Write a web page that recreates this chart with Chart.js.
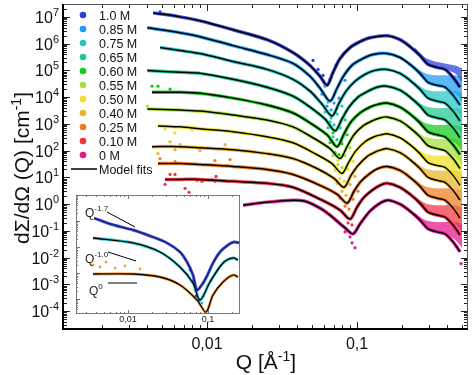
<!DOCTYPE html>
<html>
<head>
<meta charset="utf-8">
<title>SANS curves</title>
<script src="https://cdn.jsdelivr.net/npm/chart.js@4.4.1/dist/chart.umd.min.js"></script>
<style>
  html, body { margin: 0; padding: 0; background: #fff; }
  #wrap { position: relative; width: 474px; height: 375px; overflow: hidden; }
  canvas { position: absolute; }
  #main { left: 0; top: 0; }
  #inset { left: 60px; top: 185px; }
</style>
</head>
<body>
<div id="wrap">
  <canvas id="main" width="474" height="375"></canvas>
  <canvas id="inset" width="200" height="150"></canvas>
</div>
<script>
// ── Series ────────────────────────────────────────────────
const concLabels = ['1.0 M', '0.85 M', '0.75 M', '0.65 M', '0.60 M', '0.55 M', '0.50 M', '0.40 M', '0.25 M', '0.10 M', '0 M'];
const concColors = ['#2b3ed6', '#1f9bf0', '#22c6c2', '#1fc88e', '#14cc1c', '#a6df3c', '#eee022', '#e8b42a', '#f07c22', '#ee3344', '#e4148c'];

// model fits: Q [1/Å] and dΣ/dΩ [1/cm], one pair per concentration
const q100 = [0.00437, 0.00661, 0.00898, 0.0149, 0.0251, 0.0374, 0.0486, 0.0567, 0.0631, 0.0692, 0.0771, 0.0898, 0.1047, 0.1221, 0.1585, 0.1935, 0.2255, 0.263, 0.2973, 0.3415, 0.386, 0.4365, 0.486];
const fit100 = [1.41e7, 1.0e7, 7.11e6, 3.30e6, 1.41e6, 4.64e5, 1.53e5, 6.0e4, 2.78e4, 8.43e4, 2.78e5, 7.11e5, 1.19e6, 1.67e6, 1.98e6, 1.41e6, 7.74e5, 3.59e5, 1.67e5, 1.29e5, 1.09e5, 5.5e4, 2.35e4];
const q085 = [0.0040, 0.00661, 0.00898, 0.0149, 0.0251, 0.0374, 0.0486, 0.0567, 0.0661, 0.0736, 0.0819, 0.0940, 0.1096, 0.1279, 0.1585, 0.1935, 0.2255, 0.263, 0.2973, 0.3415, 0.386, 0.4365, 0.486];
const fit085 = [3.91e6, 2.56e6, 1.82e6, 8.43e5, 3.91e5, 1.82e5, 6.0e4, 2.15e4, 7.11e3, 2.15e4, 6.53e4, 1.67e5, 2.78e5, 3.91e5, 4.26e5, 3.03e5, 1.67e5, 7.74e4, 3.59e4, 2.78e4, 2.35e4, 1.19e4, 5.06e3];
const q075 = [0.00486, 0.00661, 0.00898, 0.0149, 0.0251, 0.0374, 0.0486, 0.0584, 0.0681, 0.0759, 0.0845, 0.0970, 0.1131, 0.1318, 0.1585, 0.1935, 0.2255, 0.263, 0.2973, 0.3415, 0.386, 0.4365, 0.486];
const fit075 = [7.11e5, 5.5e5, 4.26e5, 2.15e5, 1.09e5, 4.64e4, 1.67e4, 5.5e3, 1.98e3, 6.0e3, 1.67e4, 3.91e4, 7.11e4, 1.0e5, 1.09e5, 7.74e4, 4.26e4, 1.98e4, 9.18e3, 7.11e3, 6.0e3, 3.03e3, 1.29e3];
const q065 = [0.0040, 0.00661, 0.00898, 0.0149, 0.0251, 0.0374, 0.0486, 0.0612, 0.0714, 0.0794, 0.0885, 0.1016, 0.1184, 0.1359, 0.1585, 0.1935, 0.2255, 0.263, 0.2973, 0.3415, 0.386, 0.4365, 0.486];
const fit065 = [1.0e5, 8.43e4, 7.74e4, 4.64e4, 2.35e4, 1.09e4, 4.26e3, 1.53e3, 5.5e2, 1.53e3, 4.26e3, 1.0e4, 1.67e4, 2.35e4, 2.56e4, 1.82e4, 1.0e4, 4.64e3, 2.15e3, 1.67e3, 1.41e3, 7.11e2, 3.03e2];
const q060 = [0.0043, 0.00661, 0.00898, 0.0149, 0.0251, 0.0374, 0.0486, 0.0631, 0.0736, 0.0819, 0.0912, 0.1047, 0.1221, 0.1402, 0.1585, 0.1935, 0.2255, 0.263, 0.2973, 0.3415, 0.386, 0.4365, 0.486];
const fit060 = [1.53e4, 1.53e4, 1.41e4, 9.18e3, 5.06e3, 2.56e3, 1.09e3, 3.91e2, 1.41e2, 4.26e2, 1.19e3, 2.56e3, 4.26e3, 5.5e3, 6.0e3, 4.26e3, 2.35e3, 1.09e3, 5.06e2, 3.91e2, 3.30e2, 1.67e2, 71.1];
const q055 = [0.0040, 0.00661, 0.00898, 0.0149, 0.0251, 0.0374, 0.0509, 0.0661, 0.0771, 0.0858, 0.0955, 0.1096, 0.1259, 0.1423, 0.1585, 0.1935, 0.2255, 0.263, 0.2973, 0.3415, 0.386, 0.4365, 0.486];
const fit055 = [3.59e3, 3.30e3, 3.03e3, 2.15e3, 1.41e3, 7.74e2, 3.03e2, 1.19e2, 50.6, 1.41e2, 3.91e2, 8.43e2, 1.29e3, 1.67e3, 1.82e3, 1.29e3, 7.11e2, 3.30e2, 1.53e2, 1.19e2, 1.0e2, 50.6, 21.5];
const q050 = [0.00471, 0.00661, 0.00898, 0.0149, 0.0251, 0.0374, 0.0525, 0.0681, 0.0794, 0.0885, 0.0985, 0.1131, 0.1299, 0.1445, 0.1585, 0.1935, 0.2255, 0.263, 0.2973, 0.3415, 0.386, 0.4365, 0.486];
const fit050 = [8.43e2, 7.74e2, 6.53e2, 5.06e2, 3.30e2, 1.98e2, 77.4, 33.0, 14.1, 39.1, 1.0e2, 2.15e2, 3.30e2, 3.91e2, 4.26e2, 3.03e2, 1.67e2, 77.4, 35.9, 27.8, 23.5, 11.9, 5.06];
const q040 = [0.0043, 0.00661, 0.00898, 0.0149, 0.0251, 0.0374, 0.0541, 0.0703, 0.0819, 0.0912, 0.1016, 0.1166, 0.1339, 0.1468, 0.1585, 0.1935, 0.2255, 0.263, 0.2973, 0.3415, 0.386, 0.4365, 0.486];
const fit040 = [1.41e2, 1.41e2, 1.29e2, 1.09e2, 77.4, 50.6, 21.5, 9.18, 4.26, 11.9, 27.8, 60.0, 91.8, 1.09e2, 1.19e2, 84.3, 46.4, 21.5, 10.0, 7.74, 6.53, 3.30, 1.41];
const q025 = [0.00471, 0.00661, 0.00898, 0.0149, 0.0251, 0.0374, 0.0567, 0.0736, 0.0858, 0.0955, 0.1063, 0.1221, 0.1380, 0.1585, 0.1935, 0.2255, 0.263, 0.2973, 0.3415, 0.386, 0.4365, 0.486];
const fit025 = [33.0, 33.0, 30.3, 25.6, 19.8, 12.9, 5.06, 2.35, 1.09, 3.03, 7.11, 14.1, 21.5, 25.6, 18.2, 10.0, 4.64, 2.15, 1.67, 1.41, 0.711, 0.303];
const q010 = [0.00525, 0.00661, 0.00898, 0.0149, 0.0251, 0.0374, 0.0584, 0.0771, 0.0898, 0.1000, 0.1114, 0.1259, 0.1423, 0.1585, 0.1935, 0.2255, 0.263, 0.2973, 0.3415, 0.386, 0.4365, 0.486];
const fit010 = [8.43, 8.43, 8.43, 7.11, 6.0, 4.26, 1.41, 0.60, 0.278, 0.774, 1.82, 3.30, 5.06, 6.0, 4.26, 2.35, 1.09, 0.506, 0.391, 0.330, 0.167, 0.0711];
const q000 = [0.0174, 0.0251, 0.0374, 0.0450, 0.0567, 0.0661, 0.0832, 0.0940, 0.1047, 0.1221, 0.1423, 0.161, 0.1935, 0.2255, 0.263, 0.2973, 0.3415, 0.386, 0.4365, 0.486];
const fit000 = [0.918, 1.19, 1.41, 1.29, 0.711, 0.391, 0.129, 0.0774, 0.182, 0.55, 1.09, 1.41, 1.0, 0.55, 0.256, 0.119, 0.0918, 0.0774, 0.0391, 0.0167];

// spread of the measured points at high Q (upper / lower edge)
const bandQ = [0.2435, 0.2839, 0.3311, 0.386, 0.450, 0.501];
const hi100 = [7.11e5, 3.03e5, 2.15e5, 1.82e5, 1.53e5, 1.19e5], lo100 = [5.06e5, 1.98e5, 1.41e5, 1.09e5, 7.74e4, 3.59e4];
const hi085 = [1.41e5, 7.74e4, 6.53e4, 6.53e4, 6.53e4, 5.5e4], lo085 = [1.0e5, 4.26e4, 2.78e4, 2.15e4, 1.41e4, 7.11e3];
const hi075 = [3.59e4, 1.98e4, 1.67e4, 1.67e4, 1.67e4, 1.41e4], lo075 = [2.56e4, 1.09e4, 7.11e3, 5.5e3, 3.59e3, 1.82e3];
const hi065 = [8.43e3, 4.64e3, 3.91e3, 3.91e3, 3.91e3, 3.30e3], lo065 = [6.0e3, 2.56e3, 1.67e3, 1.29e3, 8.43e2, 4.26e2];
const hi060 = [1.98e3, 1.09e3, 9.18e2, 9.18e2, 9.18e2, 7.74e2], lo060 = [1.41e3, 6.0e2, 3.91e2, 3.03e2, 1.98e2, 1.0e2];
const hi055 = [6.0e2, 3.30e2, 2.78e2, 2.78e2, 2.78e2, 2.35e2], lo055 = [4.26e2, 1.82e2, 1.19e2, 91.8, 60.0, 30.3];
const hi050 = [1.41e2, 77.4, 65.3, 65.3, 65.3, 55.0], lo050 = [1.0e2, 42.6, 27.8, 21.5, 14.1, 7.11];
const hi040 = [39.1, 21.5, 18.2, 18.2, 18.2, 15.3], lo040 = [27.8, 11.9, 7.74, 6.0, 3.91, 1.98];
const hi025 = [8.43, 4.64, 3.91, 3.91, 3.91, 3.30], lo025 = [6.0, 2.56, 1.67, 1.29, 0.843, 0.426];
const hi010 = [1.98, 1.09, 0.918, 0.918, 0.918, 0.774], lo010 = [1.41, 0.60, 0.391, 0.303, 0.198, 0.10];
const hi000 = [0.464, 0.256, 0.215, 0.215, 0.215, 0.182], lo000 = [0.330, 0.141, 0.0918, 0.0711, 0.0464, 0.0235];

// stray measured points (noisy low Q, minima)
const s100Q = [0.00486, 0.0509, 0.0550, 0.0593, 0.0661, 0.0724], s100I = [1.53e7, 2.35e5, 1.09e5, 6.53e4, 4.64e4, 1.53e5];
const s085Q = [0.0584, 0.0631, 0.0671, 0.0703, 0.0759, 0.0612, 0.0832], s085I = [1.29e4, 4.64e3, 3.30e3, 6.0e3, 9.18e3, 2.56e4, 4.26e4];
const s075Q = [0.0612, 0.0661, 0.0703, 0.0736, 0.0794, 0.0641], s075I = [2.78e3, 1.19e3, 9.18e2, 2.35e3, 4.64e3, 6.53e3];
const s065Q = [0.0641, 0.0692, 0.0736, 0.0771, 0.0832, 0.0671], s065I = [7.11e2, 3.30e2, 2.56e2, 7.11e2, 1.41e3, 1.67e3];
const s060Q = [0.0661, 0.0714, 0.0759, 0.0794, 0.0858, 0.0692, 0.0043, 0.00471, 0.00567], s060I = [1.98e2, 84.3, 71.1, 1.82e2, 3.91e2, 4.64e2, 2.56e4, 2.56e4, 1.98e4];
const s055Q = [0.0692, 0.0747, 0.0794, 0.0832, 0.0898, 0.0724, 0.0040], s055I = [65.3, 30.3, 23.5, 65.3, 1.29e2, 1.53e2, 4.64e3];
const s050Q = [0.0714, 0.0771, 0.0819, 0.0871, 0.0940, 0.0747, 0.00525, 0.00612, 0.00794], s050I = [18.2, 9.18, 7.11, 19.8, 39.1, 42.6, 6.53e2, 4.64e2, 6.0e2];
const s040Q = [0.0736, 0.0794, 0.0845, 0.0898, 0.0970, 0.00471, 0.00567, 0.00661, 0.00612, 0.00898, 0.0132], s040I = [6.0, 3.03, 2.15, 5.5, 10.9, 77.4, 2.15e2, 1.67e2, 1.09e2, 1.0e2, 1.67e2];
const s025Q = [0.0771, 0.0832, 0.0885, 0.0940, 0.1016, 0.00486, 0.00612, 0.0113, 0.01424], s025I = [1.67, 0.843, 0.653, 1.53, 3.03, 50.6, 39.1, 42.6, 46.4];
const s010Q = [0.00525, 0.00567, 0.00612, 0.00714, 0.00759, 0.00858, 0.00926, 0.0113, 0.01148, 0.0871, 0.0926], s010I = [5.5, 12.9, 12.9, 3.91, 2.78, 7.74, 7.11, 7.11, 10.9, 0.198, 0.167];
const s000Q = [0.0926, 0.0970, 0.0898, 0.4935, 0.0832], s000I = [0.0359, 0.0235, 0.060, 0.0060, 0.0918];

// axes
const yTickExp = [-4, -3, -2, -1, 0, 1, 2, 3, 4, 5, 6, 7];
const xTickVals = [0.01, 0.1];
const xTickLabels = ['0,01', '0,1'];

// ── Inset ─────────────────────────────────────────────────
const insetColors = ['#2d3fd8', '#22c5c8', '#f5a040'];
const insetFitColors = ['#1a2270', '#000', '#000'];
const inQ1 = [0.00376, 0.00596, 0.01155, 0.01884, 0.03073, 0.04467, 0.05464, 0.06494, 0.07289, 0.0866, 0.0972, 0.1155, 0.1413, 0.1778, 0.2113, 0.2512];
const inI1 = [13.0, 7.67, 4.51, 2.65, 1.43, 0.642, 0.265, 0.0838, 0.0222, 0.0412, 0.0767, 0.243, 0.642, 1.19, 1.56, 1.43];
const inQ2 = [0.00365, 0.01155, 0.0251, 0.04467, 0.06494, 0.0794, 0.1059, 0.154, 0.2054, 0.2371];
const inI2 = [2.22, 1.43, 0.642, 0.170, 0.0412, 0.00915, 0.0451, 0.243, 0.378, 0.316];
const inQ3 = [0.00365, 0.01155, 0.0251, 0.04467, 0.07289, 0.0944, 0.1155, 0.154, 0.2054, 0.2371];
const inI3 = [0.0915, 0.0915, 0.0702, 0.0346, 0.00915, 0.00316, 0.01425, 0.0451, 0.0838, 0.0702];
const inStrayQ1 = [0.0596, 0.0649, 0.0708, 0.0772], inStrayI1 = [0.1304, 0.0492, 0.0130, 0.00915];
const inStrayQ2 = [0.0688, 0.075, 0.0841, 0.0891], inStrayI2 = [0.0222, 0.01093, 0.00702, 0.0130];
const inStrayQ3 = [0.00365, 0.00447, 0.00531, 0.00688, 0.00917, 0.01413], inStrayI3 = [0.203, 0.170, 0.265, 0.156, 0.186, 0.143];
// power-law guides Q^-1.7, Q^-1.0, Q^0
const guideExp = ['-1.7', '-1.0', '0'];
const guideQ = [[0.00546, 0.01223], [0.00562, 0.01259], [0.00562, 0.01296]];
const guideI = [[22.2, 5.88], [0.642, 0.2894], [0.0412, 0.0412]];

// ── Helpers ───────────────────────────────────────────────
const FONT = "'Liberation Sans', Arial, sans-serif";
const pts = (xs, ys) => xs.map((x, i) => ({ x, y: ys[i] }));

function drawRuns(ctx, runs, x, y, align) {
  let w = 0;
  runs.forEach(r => { ctx.font = r.font; r.w = ctx.measureText(r.t).width; w += r.w; });
  let cx = align === 'right' ? x - w : align === 'center' ? x - w / 2 : x;
  ctx.textAlign = 'left';
  ctx.textBaseline = 'alphabetic';
  runs.forEach(r => { ctx.font = r.font; ctx.fillText(r.t, cx, y - (r.rise || 0)); cx += r.w; });
}

function logTicks(ctx, scale, eFrom, eTo, draw) {
  for (let e = eFrom; e <= eTo; e++) {
    for (let m = 1; m <= 9; m++) {
      const v = m * Math.pow(10, e);
      if (v < scale.min || v > scale.max) continue;
      draw(Math.round(scale.getPixelForValue(v)) + 0.5, m === 1);
    }
  }
}

function fade(hex, a) {
  const n = parseInt(hex.slice(1), 16);
  return `rgba(${n >> 16},${(n >> 8) & 255},${n & 255},${a})`;
}

const whiteBg = {
  id: 'whiteBg',
  beforeDraw(chart) {
    const { ctx, width, height } = chart;
    ctx.save(); ctx.fillStyle = '#fff'; ctx.fillRect(0, 0, width, height); ctx.restore();
  }
};

// ── Main chart ────────────────────────────────────────────
const fitQ = [q100, q085, q075, q065, q060, q055, q050, q040, q025, q010, q000];
const fitI = [fit100, fit085, fit075, fit065, fit060, fit055, fit050, fit040, fit025, fit010, fit000];
const bandHi = [hi100, hi085, hi075, hi065, hi060, hi055, hi050, hi040, hi025, hi010, hi000];
const bandLo = [lo100, lo085, lo075, lo065, lo060, lo055, lo050, lo040, lo025, lo010, lo000];
const strayQ = [s100Q, s085Q, s075Q, s065Q, s060Q, s055Q, s050Q, s040Q, s025Q, s010Q, s000Q];
const strayI = [s100I, s085I, s075I, s065I, s060I, s055I, s050I, s040I, s025I, s010I, s000I];

function mainDatasets() {
  const sets = [];
  concLabels.forEach((label, k) => {
    const col = concColors[k];
    sets.push({ label: label + ' fit', data: pts(fitQ[k], fitI[k]), showLine: true, borderColor: '#000',
      borderWidth: 1.5, pointRadius: 0, tension: 0.3, order: 0 });
    sets.push({ label, data: pts(fitQ[k], fitI[k]), showLine: true, borderColor: fade(col, 0.9),
      borderWidth: 3.5, pointRadius: 0, tension: 0.3, order: 2 });
    sets.push({ label: label + ' scatter', data: pts(strayQ[k], strayI[k]), showLine: false,
      pointRadius: 1.6, pointBackgroundColor: col, pointBorderWidth: 0, order: 1 });
    const hiIndex = sets.length;
    sets.push({ label: label + ' band hi', data: pts(bandQ, bandHi[k]), showLine: true, borderWidth: 0,
      borderColor: 'rgba(0,0,0,0)', pointRadius: 0, tension: 0.3, fill: false, order: 3 });
    sets.push({ label: label + ' band lo', data: pts(bandQ, bandLo[k]), showLine: true, borderWidth: 0,
      borderColor: 'rgba(0,0,0,0)', pointRadius: 0, tension: 0.3, fill: { target: hiIndex },
      backgroundColor: fade(col, 0.72), order: 3 });
  });
  return sets;
}

const mainFrame = {
  id: 'mainFrame',
  afterDraw(chart) {
    const { ctx, chartArea: a, scales: { x, y } } = chart;
    ctx.save();
    ctx.strokeStyle = '#222';
    ctx.lineWidth = 1;
    ctx.beginPath();
    logTicks(ctx, y, -5, 7, (py, major) => {
      const len = major ? 7 : 4;
      ctx.moveTo(a.left, py); ctx.lineTo(a.left + len, py);
      ctx.moveTo(a.right, py); ctx.lineTo(a.right - len, py);
    });
    logTicks(ctx, x, -3, -1, (px, major) => {
      const len = major ? 7 : 4;
      ctx.moveTo(px, a.bottom); ctx.lineTo(px, a.bottom - len);
      ctx.moveTo(px, a.top); ctx.lineTo(px, a.top + len);
    });
    ctx.stroke();
    ctx.strokeStyle = '#555';
    ctx.strokeRect(a.left + 0.5, a.top + 0.5, a.right - a.left - 1, a.bottom - a.top - 1);
    ctx.strokeStyle = '#000';
    ctx.lineWidth = 2;
    ctx.beginPath();
    ctx.moveTo(a.left, a.top); ctx.lineTo(a.left, a.bottom); ctx.lineTo(a.right, a.bottom);
    ctx.stroke();

    ctx.fillStyle = '#111';
    yTickExp.forEach(e => {
      const py = y.getPixelForValue(Math.pow(10, e));
      drawRuns(ctx, [{ t: '10', font: '16px ' + FONT }, { t: String(e), font: '11px ' + FONT, rise: 7 }],
        a.left - 4, py + 6, 'right');
    });
    xTickVals.forEach((v, i) => {
      drawRuns(ctx, [{ t: xTickLabels[i], font: '16px ' + FONT }], x.getPixelForValue(v), a.bottom + 20, 'center');
    });

    // axis titles
    drawRuns(ctx, [{ t: 'Q [Å', font: '21px ' + FONT }, { t: '-1', font: '14px ' + FONT, rise: 8 },
      { t: ']', font: '21px ' + FONT }], 266, 369, 'center');
    ctx.translate(29, 168);
    ctx.rotate(-Math.PI / 2);
    drawRuns(ctx, [{ t: 'dΣ/dΩ (Q) [cm', font: '21px ' + FONT }, { t: '-1', font: '14px ' + FONT, rise: 8 },
      { t: ']', font: '21px ' + FONT }], 0, 0, 'center');
    ctx.restore();
  }
};

const concLegend = {
  id: 'concLegend',
  afterDraw(chart) {
    const { ctx } = chart;
    ctx.save();
    concLabels.forEach((label, i) => {
      const cy = 15 + i * 14;
      ctx.fillStyle = concColors[i];
      ctx.beginPath(); ctx.arc(83, cy, 3.3, 0, Math.PI * 2); ctx.fill();
      ctx.fillStyle = '#111';
      drawRuns(ctx, [{ t: label, font: '12.5px ' + FONT }], 99, cy + 4.5, 'left');
    });
    const cy = 15 + concLabels.length * 14;
    ctx.strokeStyle = '#000'; ctx.lineWidth = 1.5;
    ctx.beginPath(); ctx.moveTo(71, cy); ctx.lineTo(97, cy); ctx.stroke();
    drawRuns(ctx, [{ t: 'Model fits', font: '12.5px ' + FONT }], 99, cy + 4.5, 'left');
    ctx.restore();
  }
};

new Chart(document.getElementById('main'), {
  type: 'scatter',
  data: { datasets: mainDatasets() },
  options: {
    responsive: false, animation: false, devicePixelRatio: 1, events: [],
    layout: { padding: { left: 63, top: 1, right: 6, bottom: 46 } },
    plugins: { legend: { display: false }, tooltip: { enabled: false } },
    scales: {
      x: { type: 'logarithmic', display: false, bounds: 'data', min: 0.001096, max: 0.5495 },
      y: { type: 'logarithmic', display: false, bounds: 'data', min: 2.154e-5, max: 3.03e7 }
    }
  },
  plugins: [whiteBg, mainFrame, concLegend]
});

// ── Inset chart ───────────────────────────────────────────
const inQ = [inQ1, inQ2, inQ3];
const inI = [inI1, inI2, inI3];
const inStrayQ = [inStrayQ1, inStrayQ2, inStrayQ3];
const inStrayI = [inStrayI1, inStrayI2, inStrayI3];

function insetDatasets() {
  const sets = [];
  guideQ.forEach((q, k) => {
    sets.push({ label: 'Q^' + guideExp[k], data: pts(q, guideI[k]), showLine: true, pointRadius: 0,
      borderColor: k === 2 ? '#555' : '#000', borderWidth: k === 2 ? 1.5 : 1, order: 0 });
  });
  inQ.forEach((q, k) => {
    sets.push({ label: 'fit ' + k, data: pts(q, inI[k]), showLine: true, pointRadius: 0,
      borderColor: insetFitColors[k], borderWidth: 1.3, tension: 0.3, order: 0 });
    sets.push({ label: 'data ' + k, data: pts(q, inI[k]), showLine: true, pointRadius: 0,
      borderColor: fade(insetColors[k], 0.9), borderWidth: 3, tension: 0.3, order: 2 });
    sets.push({ label: 'stray ' + k, data: pts(inStrayQ[k], inStrayI[k]), showLine: false,
      pointRadius: 1.4, pointBackgroundColor: insetColors[k], pointBorderWidth: 0, order: 1 });
  });
  return sets;
}

const insetFrame = {
  id: 'insetFrame',
  beforeDatasetsDraw(chart) {
    const { ctx, chartArea: a } = chart;
    ctx.save(); ctx.fillStyle = '#fff'; ctx.fillRect(a.left, a.top, a.right - a.left, a.bottom - a.top); ctx.restore();
  },
  afterDraw(chart) {
    const { ctx, chartArea: a, scales: { x, y } } = chart;
    ctx.save();
    ctx.strokeStyle = '#777';
    ctx.lineWidth = 1;
    ctx.strokeRect(a.left + 0.5, a.top + 0.5, a.right - a.left - 1, a.bottom - a.top - 1);
    ctx.beginPath();
    logTicks(ctx, x, -3, -1, (px, major) => {
      const len = major ? 4 : 2;
      ctx.moveTo(px, a.bottom); ctx.lineTo(px, a.bottom - len);
      ctx.moveTo(px, a.top); ctx.lineTo(px, a.top + len);
    });
    logTicks(ctx, y, -3, 1, (py, major) => {
      const len = major ? 4 : 2;
      ctx.moveTo(a.left, py); ctx.lineTo(a.left + len, py);
    });
    ctx.stroke();
    ctx.fillStyle = '#222';
    xTickVals.forEach((v, i) => {
      drawRuns(ctx, [{ t: xTickLabels[i], font: '9px ' + FONT }], x.getPixelForValue(v), a.bottom + 8, 'center');
    });
    const spots = [[25, 32], [25, 78], [29, 110]];
    guideExp.forEach((e, k) => {
      drawRuns(ctx, [{ t: 'Q', font: '12px ' + FONT }, { t: e, font: '8px ' + FONT, rise: 6 }],
        spots[k][0], spots[k][1], 'left');
    });
    ctx.restore();
  }
};

new Chart(document.getElementById('inset'), {
  type: 'scatter',
  data: { datasets: insetDatasets() },
  options: {
    responsive: false, animation: false, devicePixelRatio: 1, events: [],
    layout: { padding: { left: 16, top: 10, right: 20, bottom: 21 } },
    plugins: { legend: { display: false }, tooltip: { enabled: false } },
    scales: {
      x: { type: 'logarithmic', display: false, bounds: 'data', min: 0.002239, max: 0.2512 },
      y: { type: 'logarithmic', display: false, bounds: 'data', min: 0.002649, max: 100 }
    }
  },
  plugins: [insetFrame]
});
</script>
</body>
</html>
